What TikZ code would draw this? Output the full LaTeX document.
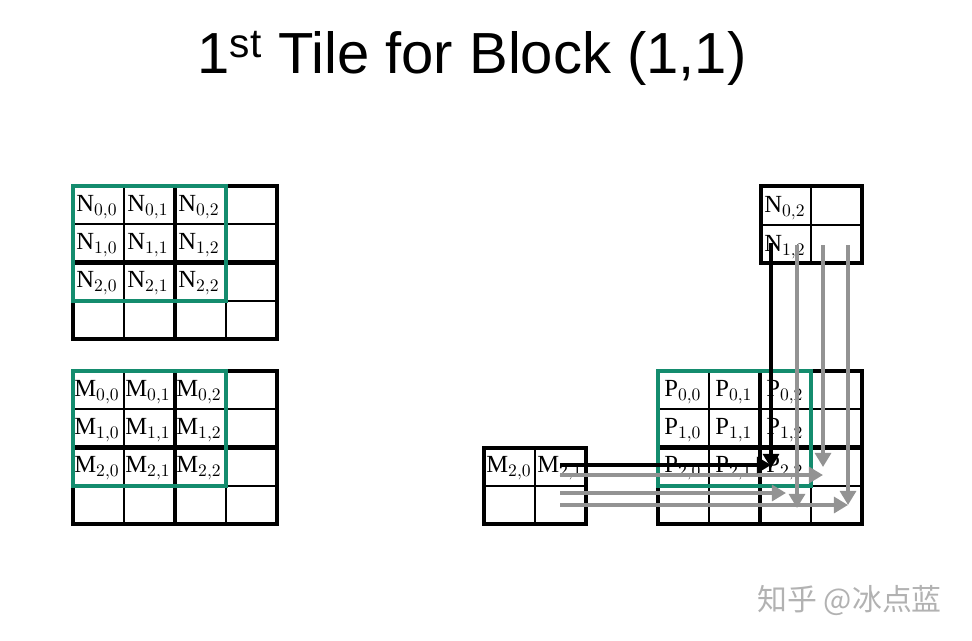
\documentclass[tikz,border=0pt]{standalone}
\usepackage{fontspec}
\setmainfont{Liberation Serif}
\newfontfamily\titlefont{Liberation Sans}
\newfontfamily\cjk{Noto Sans CJK SC}
\usetikzlibrary{arrows.meta}
\tikzset{
 thin grid/.style={line width=1.2pt},
 thick grid/.style={line width=2.6pt},
 tile/.style={draw={rgb,255:red,20;green,140;blue,110},line width=2.4pt},
 cell/.style={anchor=west,inner sep=0pt,font=\fontsize{14}{14}\selectfont},
 blk/.style={line width=2.6pt,-{Triangle[length=8pt,width=9pt]}},
 gry/.style={line width=2.6pt,draw=gray!85,-{Triangle[length=8pt,width=9pt]},color=gray!85},
}
\begin{document}
\begin{tikzpicture}[x=0.02cm,y=-0.02cm]
\useasboundingbox (0,0) rectangle (972,640);
\node[font=\titlefont\fontsize{33}{33}\selectfont] (title) at (472,58) {1\textsuperscript{st} Tile for Block (1,1)};
% generic 4x4 grid macro
\newcommand\mygrid[2]{% x0,y0
 \foreach \i in {1,3} {\draw[thin grid] (#1+\i*51,#2) -- (#1+\i*51,#2+153);
   \draw[thin grid] (#1,#2+\i*38.25) -- (#1+204,#2+\i*38.25);}
 \draw[thick grid] (#1+102,#2) -- (#1+102,#2+153);
 \draw[thick grid] (#1,#2+76.5) -- (#1+204,#2+76.5);
 \draw[thick grid] (#1,#2) rectangle (#1+204,#2+153);}
\mygrid{73}{186}
\mygrid{73}{371}
\mygrid{658}{371}
\foreach \r in {0,1,2} \foreach \c in {0,1,2} {
 \node[cell] (n\r\c) at (73+\c*51+3,186+\r*38.25+21) {N$_{\r,\c}$};
 \node[cell] (m\r\c) at (73+\c*51+1,371+\r*38.25+21) {M$_{\r,\c}$};
 \node[cell] (p\r\c) at (658+\c*51+6,371+\r*38.25+21) {P$_{\r,\c}$};}
\draw[tile] (73,186) rectangle (226,301);
\draw[tile] (73,371) rectangle (226,486);
\draw[tile] (658,371) rectangle (811,486);
% N tile
\draw[thin grid] (811,186) -- (811,263) (761,225) -- (862,225);
\draw[thick grid] (761,186) rectangle (862,263);
\node[cell] (nt0) at (764,208) {N$_{0,2}$};
\node[cell] (nt1) at (764,247) {N$_{1,2}$};
% M tile
\draw[thin grid] (535,448) -- (535,524) (484,486) -- (586,486);
\draw[thick grid] (484,448) rectangle (586,524);
\node[cell] (mt0) at (486,468) {M$_{2,0}$};
\node[cell] (mt1) at (537,468) {M$_{2,1}$};
% arrows
\coordinate (v1s) at (797,245); \coordinate (v1e) at (797,508);
\coordinate (v2s) at (823,245); \coordinate (v2e) at (823,467);
\coordinate (v3s) at (848,245); \coordinate (v3e) at (848,505);
\coordinate (h1s) at (560,475); \coordinate (h1e) at (823,475);
\coordinate (h2s) at (560,493); \coordinate (h2e) at (786,493);
\coordinate (h3s) at (560,505); \coordinate (h3e) at (848,505);
\draw[gry] (v1s) -- (v1e); \draw[gry] (v2s) -- (v2e); \draw[gry] (v3s) -- (v3e);
\draw[gry] (h1s) -- (h1e); \draw[gry] (h2s) -- (h2e); \draw[gry] (h3s) -- (h3e);
\coordinate (bvs) at (771,243); \coordinate (bve) at (771,468);
\coordinate (bhs) at (560,465); \coordinate (bhe) at (771,465);
\draw[blk] (bvs) -- (bve);
\draw[blk] (bhs) -- (bhe);
\node[font=\cjk\fontsize{17}{17}\selectfont,text=gray!60,anchor=east] (wm) at (948,601) {知乎 @冰点蓝};
\end{tikzpicture}
\end{document}
